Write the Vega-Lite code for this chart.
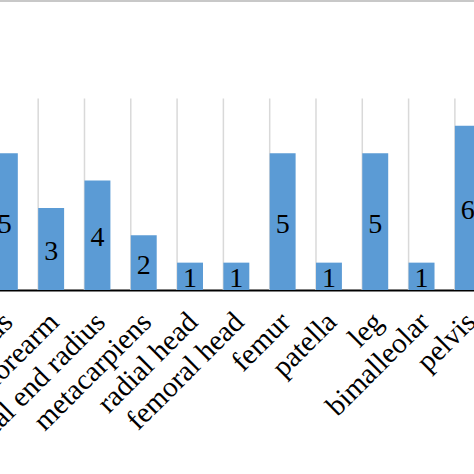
{
  "$schema": "https://vega.github.io/schema/vega-lite/v6.json",
  "width": 474,
  "height": 290,
  "padding": {"left": 0, "top": 0, "right": 0, "bottom": 184},
  "autosize": "none",
  "background": "white",
  "config": {"view": {"stroke": null}},
  "data": {
    "values": [
      {"site": "humerus", "cases": 5},
      {"site": "forearm", "cases": 3},
      {"site": "distal end radius", "cases": 4},
      {"site": "metacarpiens", "cases": 2},
      {"site": "radial head", "cases": 1},
      {"site": "femoral head", "cases": 1},
      {"site": "femur", "cases": 5},
      {"site": "patella", "cases": 1},
      {"site": "leg", "cases": 5},
      {"site": "bimalleolar", "cases": 1},
      {"site": "pelvis", "cases": 6}
    ]
  },
  "layer": [
    {
      "mark": {"type": "rule", "color": "#d9d9d9", "strokeWidth": 1.5},
      "encoding": {
        "x": {
          "field": "site",
          "type": "nominal",
          "sort": null,
          "bandPosition": 0,
          "scale": {"range": [-18.3, 491], "paddingInner": 0.44, "paddingOuter": 0.22},
          "axis": {
            "title": null,
            "labelAngle": -45,
            "labelFont": "Liberation Serif",
            "labelFontSize": 29,
            "labelColor": "#000000",
            "labelPadding": 17,
            "labelOffset": -7,
            "labelLimit": 0,
            "labelOverlap": false,
            "ticks": false,
            "domainColor": "#000000",
            "domainWidth": 2,
            "grid": false
          }
        },
        "y": {
          "datum": 0,
          "type": "quantitative",
          "scale": {"domain": [0, 10.6], "nice": false},
          "axis": null
        },
        "y2": {"datum": 7}
      }
    },
    {
      "mark": {"type": "bar", "color": "#5b9bd5"},
      "encoding": {
        "x": {"field": "site", "type": "nominal", "sort": null},
        "y": {"field": "cases", "type": "quantitative"}
      }
    },
    {
      "transform": [{"calculate": "datum.cases / 2", "as": "mid"}],
      "mark": {
        "type": "text",
        "font": "Liberation Serif",
        "fontSize": 28,
        "color": "#000000",
        "baseline": "middle",
        "dy": 3
      },
      "encoding": {
        "x": {"field": "site", "type": "nominal", "sort": null},
        "y": {"field": "mid", "type": "quantitative"},
        "text": {"field": "cases", "type": "quantitative"}
      }
    },
    {
      "mark": {"type": "rule", "color": "#c8c8c8", "strokeWidth": 3},
      "encoding": {"y": {"datum": 10.6, "type": "quantitative"}}
    }
  ]
}
